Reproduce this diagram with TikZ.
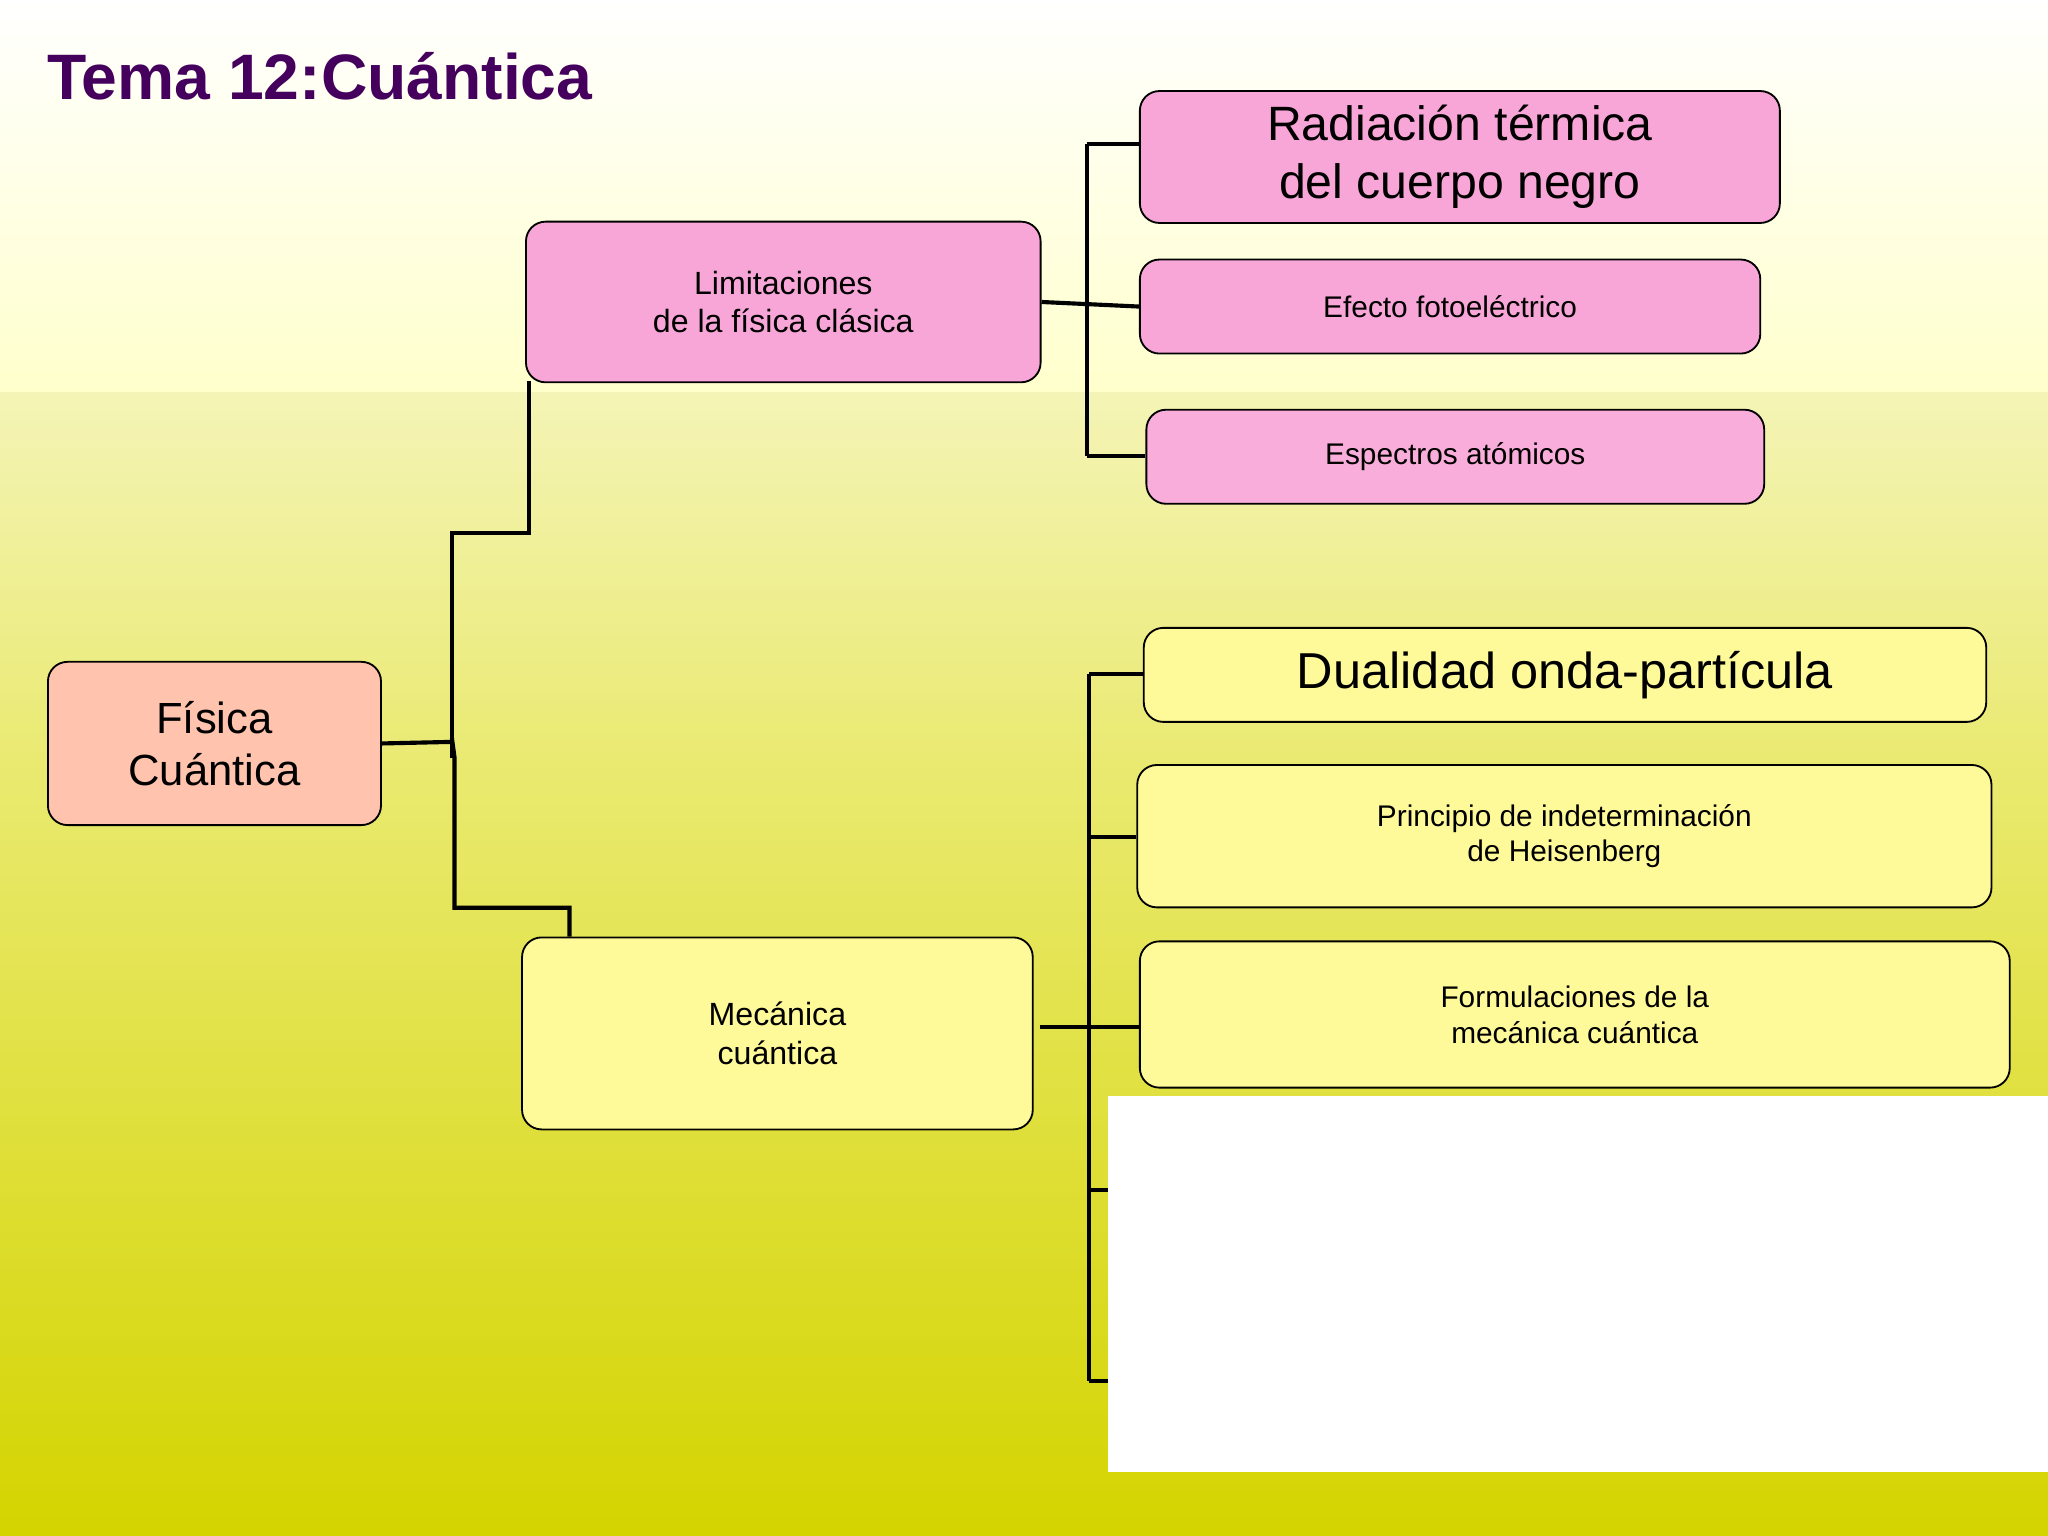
\documentclass[tikz,border=0pt]{standalone}
\usepackage{fontspec}
\setmainfont{Liberation Sans}
\begin{document}
\begin{tikzpicture}[x=0.02cm,y=-0.02cm,
  box/.style={draw=black,line width=0.8pt,rounded corners=0.3cm,align=center,anchor=north west,inner sep=0pt},
  ln/.style={line width=1.8pt,black}]
\useasboundingbox (0,0) rectangle (1568,1176);
\shade[top color=white,middle color=yellow!30!olive!35!white,bottom color=yellow!75!olive!95!black] (0,0) rectangle (1568,1176);
\shade[top color=white,bottom color=white!80!yellow] (0,0) rectangle (1568,300);
\node[anchor=west,font=\fontsize{28}{32}\selectfont\bfseries,text=violet!60!black!90!blue] (t) at (30,58) {Tema 12:Cuántica};
\newcommand\bx[8]{\node[box,fill=#6,minimum width={(#3-#2)*0.02cm},minimum height={(#5-#4)*0.02cm},font=\fontsize{#7}{1.2\dimexpr#7pt\relax}\selectfont] (#1) at (#2,#4) {#8};}
\bx{fis}{36}{291}{506}{631}{orange!30!pink!90!red!60!white}{19}{Física\\Cuántica}
\bx{lim}{402}{796}{169}{292}{magenta!35}{14}{Limitaciones\\de la física clásica}
\bx{rad}{872}{1362}{69}{170}{magenta!35}{21}{Radiación térmica\\del cuerpo negro}
\bx{efe}{872}{1347}{198}{270}{magenta!35}{13}{Efecto fotoeléctrico}
\bx{esp}{877}{1350}{313}{385}{magenta!32}{13}{Espectros atómicos}
\bx{mec}{399}{790}{717}{864}{yellow!40}{14}{Mecánica\\cuántica}
\bx{dua}{875}{1520}{480}{552}{yellow!40}{22}{Dualidad onda-partícula}
\bx{pri}{870}{1524}{585}{694}{yellow!40}{13}{Principio de indeterminación\\de Heisenberg}
\bx{for}{872}{1538}{720}{832}{yellow!40}{13}{Formulaciones de la\\mecánica cuántica}
\fill[white] (848,839) rectangle (1568,1127);
\coordinate (w1) at (848,911);
\coordinate (w2) at (848,1057);
\draw[ln] (fis.east) -- (346,568);
\draw[ln] (346,580) -- (346,408) -- (405,408) -- (405,292);
\draw[ln] (346,565) -- (348,580) -- (348,695) -- (436,695) -- (436,717);
\draw[ln] (lim.east) -- (efe.west);
\draw[ln] (832,110) -- (832,349);
\draw[ln] (832,110) -- (872,110);
\draw[ln] (832,349) -- (877,349);
\draw[ln] (796,786) -- (872,786);
\draw[ln] (834,516) -- (834,1057);
\draw[ln] (834,516) -- (875,516);
\draw[ln] (834,641) -- (870,641);
\draw[ln] (834,911) -- (w1);
\draw[ln] (834,1057) -- (w2);
\end{tikzpicture}
\end{document}
